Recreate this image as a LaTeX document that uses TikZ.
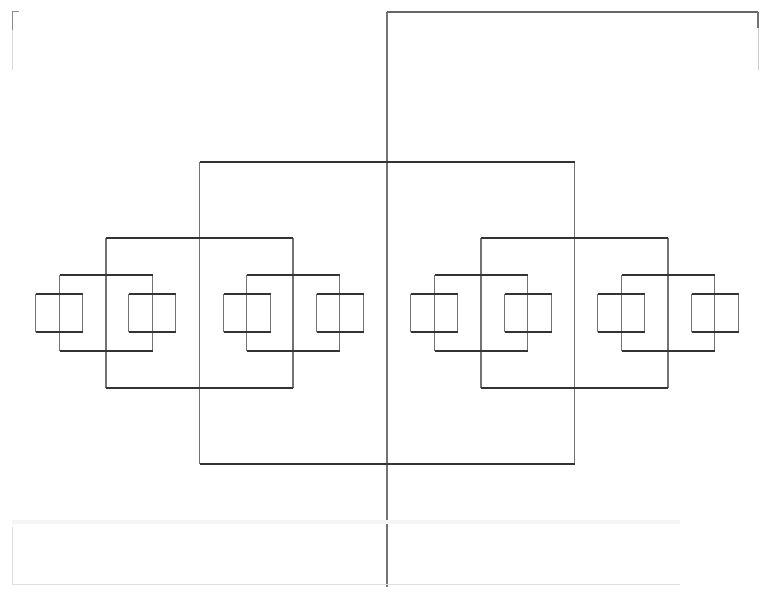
\documentclass[tikz,border=0pt]{standalone}
\usepackage[dvipsnames]{xcolor}

\begin{document}
\begin{tikzpicture}[x=1pt,y=-1pt,
    hline/.style={draw=black!80,line width=1.3pt},
    vline/.style={draw=black!55,line width=1.1pt},
    faint/.style={draw=black!12,line width=1pt}]

            \useasboundingbox (0,0) rectangle (768,594);

            % axis and what is left of the outer frame
            \coordinate (top) at (387,12);
            \coordinate (bot) at (387,587);
            \coordinate (tr) at (758,12);
            \draw[vline] (top) -- (bot);
            \draw[hline,draw=black!60] (top) -- (tr);
            \draw[vline] (tr) -- (758,28);
            \draw[faint,draw=black!20] (758,28) -- (758,70);
            \draw[faint,draw=black!45] (19,12) -- (12,12) -- (12,30);
            \draw[faint,draw=black!15] (12,30) -- (12,70);
            \draw[faint,draw=black!4,line width=4pt] (12,522) -- (680,522);
            \draw[faint] (12,527) -- (12,584) -- (680,584);

            % boxes: centre x / half width / half height
            \foreach \cx/\hw/\hh in {387/187.5/151,
                199.5/93.5/75, 574.5/93.5/75,
                106/46.5/38, 293/46.5/38, 481/46.5/38, 668/46.5/38,
                59/23.5/19, 152/23.5/19, 247/23.5/19, 340/23.5/19,
                434/23.5/19, 528/23.5/19, 621/23.5/19, 715/23.5/19}{
                \draw[vline] (\cx-\hw,313-\hh) -- (\cx-\hw,313+\hh)
                             (\cx+\hw,313-\hh) -- (\cx+\hw,313+\hh);
                \draw[hline] (\cx-\hw,313-\hh) -- (\cx+\hw,313-\hh)
                             (\cx-\hw,313+\hh) -- (\cx+\hw,313+\hh);
            }

            ;
        \end{tikzpicture}
\end{document}
